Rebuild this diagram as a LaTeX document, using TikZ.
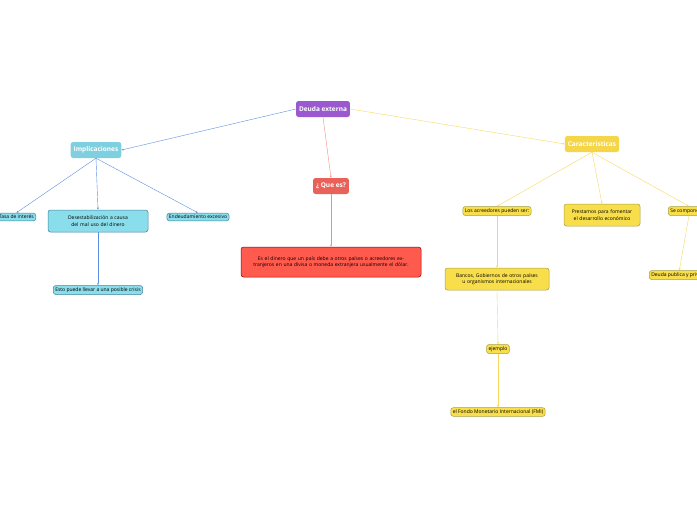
\documentclass[tikz,border=0pt]{standalone}
\usepackage{fontspec}
\usetikzlibrary{arrows.meta}
\setmainfont{Open Sans}
\begin{document}
\begin{tikzpicture}[x=1pt,y=-1pt,
 base/.style={draw=#1!60!black,rounded corners=2.5pt,inner sep=2pt,align=center,font=\fontsize{5}{6.5}\selectfont,line width=0.5pt},
 bl/.style={base=cyan,fill=cyanc},
 yl/.style={base=yellow,fill=yelc},
 top/.style={rounded corners=2.5pt,text=white,font=\bfseries\fontsize{6.5}{8}\selectfont,minimum height=16pt,inner sep=3pt},
 lb/.style={draw=lineb,line width=0.4pt},
 lr/.style={draw=liner,line width=0.4pt},
 ly/.style={draw=liney,line width=0.4pt},
 tip/.style={-{Latex[length=2pt,width=2pt]}}]
\definecolor{cyanc}{HTML}{8ADDEA}
\definecolor{yelc}{HTML}{F8DE4A}
\definecolor{lineb}{HTML}{5B8FE0}
\definecolor{liner}{HTML}{F0907F}
\definecolor{liney}{HTML}{F8D860}
\useasboundingbox (0,0) rectangle (697,520);
\node[top,fill={rgb,255:red,155;green,89;blue,208}] (de) at (323,109) {Deuda externa};
\node[top,fill={rgb,255:red,126;green,208;blue,224}] (im) at (96,150) {Implicaciones};
\node[top,fill={rgb,255:red,232;green,98;blue,90}] (qe) at (331,186) {¿ Que es?};
\node[top,fill={rgb,255:red,245;green,214;blue,72}] (ca) at (592,144) {Caracteristicas};
\node[bl,anchor=east] (ti) at (36,217) {Tasa de interés};
\node[bl,text width=96pt,minimum height=22pt] (des) at (98,221) {Desestabilización a causa del mal uso del dinero};
\node[bl] (end) at (198,217) {Endeudamiento excesivo};
\node[bl] (esto) at (98,290) {Esto puede llevar a una posible crisis};
\node[base=red,fill={rgb,255:red,255;green,90;blue,78},text width=176pt,minimum height=30pt] (def) at (331,262) {Es el dinero que un país debe a otros países o acreedores extranjeros en una divisa o moneda extranjera usualmente el dólar.};
\node[yl] (acr) at (497,211) {Los acreedores pueden ser:};
\node[yl,text width=72pt,minimum height=22pt] (pre) at (602,215) {Prestamos para fomentar el desarrollo económico};
\node[yl,anchor=west] (se) at (668,211) {Se compone de:};
\node[yl,text width=100pt,minimum height=22pt] (ban) at (497,279) {Bancos, Gobiernos de otros países u organismos internacionales};
\node[yl] (ej) at (498,349) {ejemplo};
\node[yl] (fmi) at (498,412) {el Fondo Monetario Internacional (FMI)};
\node[yl,anchor=west] (dp) at (649,275) {Deuda publica y privada};
\draw[lb,tip] (de.west) -- (im.east);
\draw[lr,tip] (de.south) -- (qe.north);
\draw[ly,tip] (de.east) -- (ca.west);
\draw[lb,tip] (im.south) -- (ti.north);
\draw[lb,tip] (im.south) -- (des.north);
\draw[lb,tip] (im.south) -- (end.north);
\draw[lb,tip] (des.south) -- (esto.north);
\draw[lr,tip] (qe.south) -- (def.north);
\draw[ly,tip] (ca.south) -- (acr.north);
\draw[ly,tip] (ca.south) -- (pre.north);
\draw[ly,tip] (ca.south) -- (se.north);
\draw[ly,tip] (acr.south) -- (ban.north);
\draw[ly,tip] (ban.south) -- (ej.north);
\draw[ly,tip] (ej.south) -- (fmi.north);
\draw[ly,tip] (se.south) -- (dp.north);
\end{tikzpicture}
\end{document}
